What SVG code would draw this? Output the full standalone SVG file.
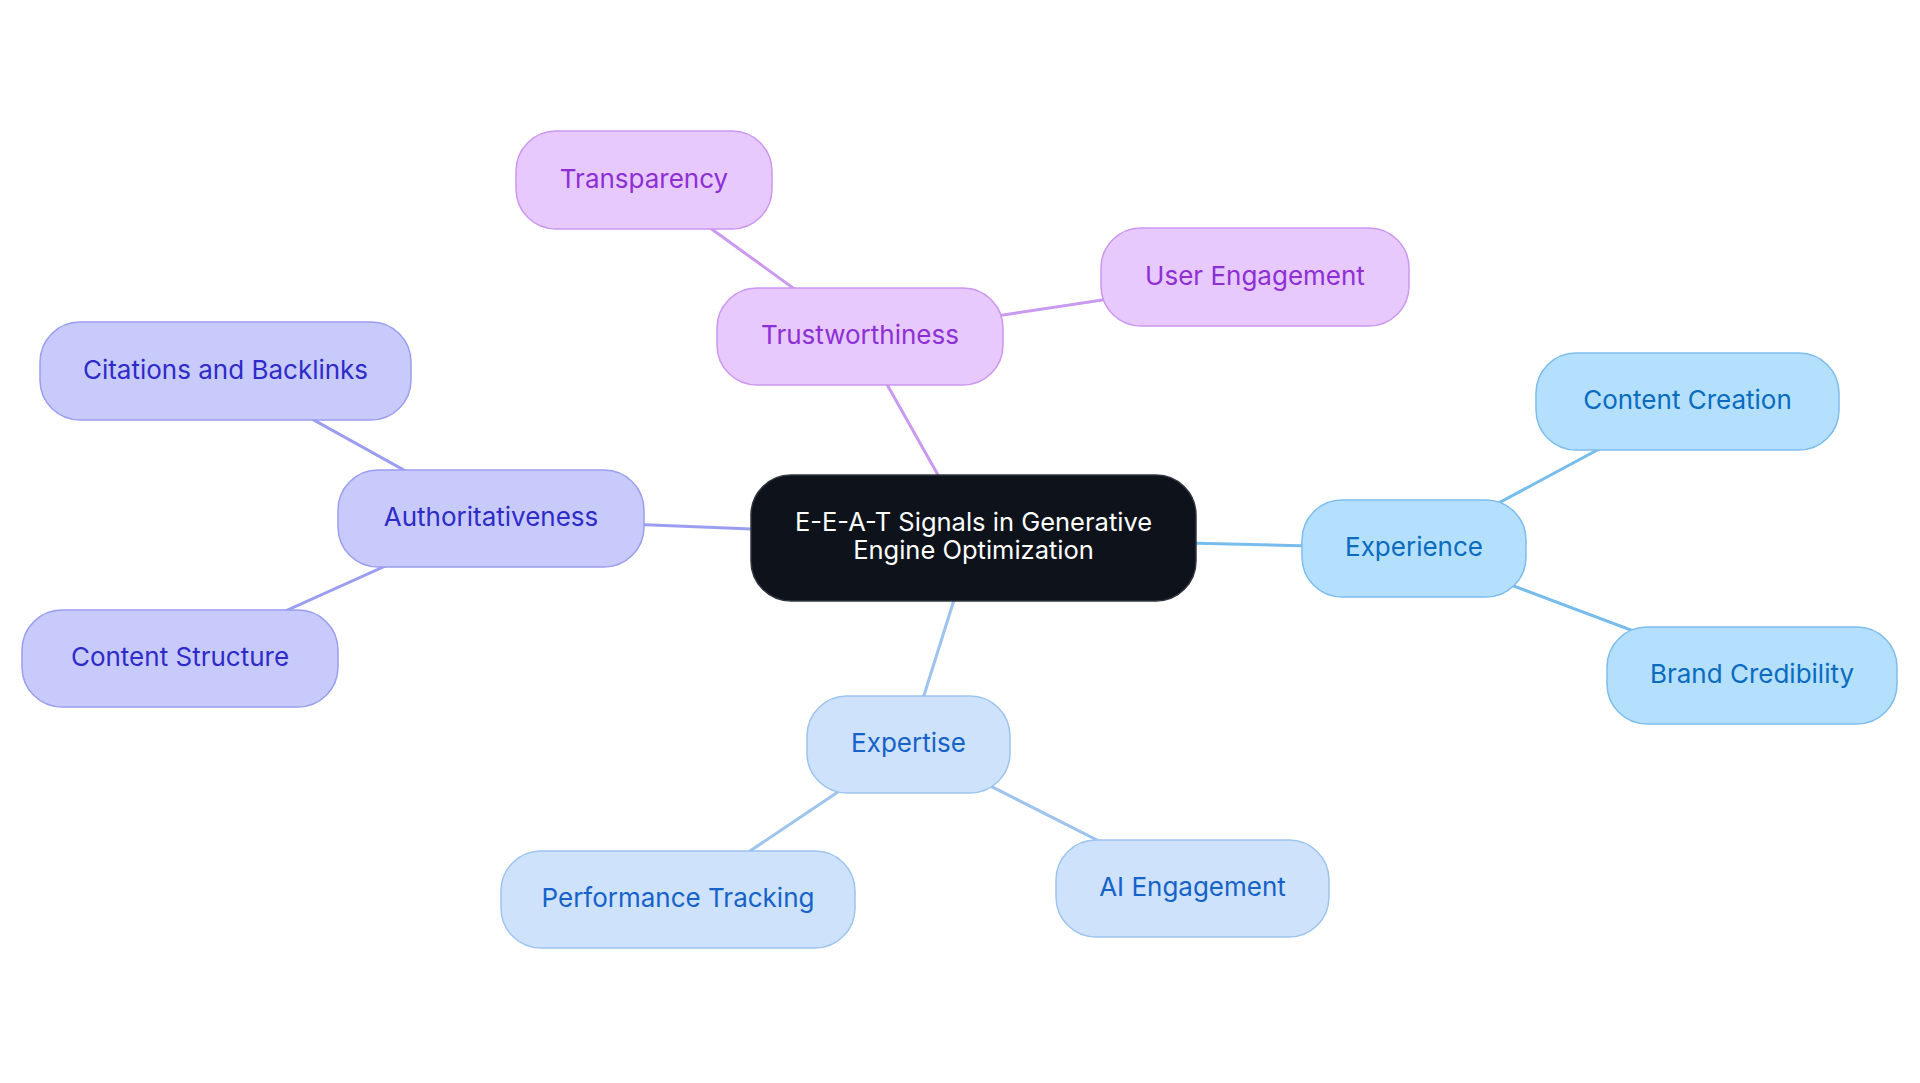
<svg xmlns="http://www.w3.org/2000/svg" width="1920" height="1083" viewBox="0 0 1920 1083">
<style>
text{font-family:Inter,"Noto Sans","Liberation Sans",sans-serif;font-size:26px;text-anchor:middle}
.c line{stroke-width:3;fill:none}
.pu rect{fill:#E7C9FD;stroke:#CC97F0;stroke-width:1.5}
.pu text{fill:#8E2FD6}
.in rect{fill:#C8CAFC;stroke:#9B9DF0;stroke-width:1.5}
.in text{fill:#2F2BC8}
.lb rect{fill:#B4DFFD;stroke:#7DBDEE;stroke-width:1.5}
.lb text{fill:#0A6BBF}
.ex rect{fill:#CEE3FB;stroke:#9DC4EF;stroke-width:1.5}
.ex text{fill:#1662C8}
.root rect{fill:#0D121B;stroke:#30353D;stroke-width:1.5}
.root text{fill:#FFFFFF;font-size:25.5px}
</style>
<rect width="1920" height="1083" fill="#FFFFFF"/>
<g id="connectors" class="c">
<line x1="973.5" y1="538" x2="860" y2="336.5" stroke="#C99AF0"/>
<line x1="860" y1="336.5" x2="644" y2="180" stroke="#C99AF0"/>
<line x1="860" y1="336.5" x2="1255" y2="277" stroke="#C99AF0"/>
<line x1="973.5" y1="538" x2="491" y2="518.5" stroke="#9B9DF0"/>
<line x1="491" y1="518.5" x2="225.5" y2="371" stroke="#9B9DF0"/>
<line x1="491" y1="518.5" x2="180" y2="658.5" stroke="#9B9DF0"/>
<line x1="973.5" y1="538" x2="1414" y2="548.5" stroke="#76BCEC"/>
<line x1="1414" y1="548.5" x2="1687.5" y2="401.5" stroke="#76BCEC"/>
<line x1="1414" y1="548.5" x2="1752" y2="675.5" stroke="#76BCEC"/>
<line x1="973.5" y1="538" x2="908.5" y2="744.5" stroke="#9DC4EF"/>
<line x1="908.5" y1="744.5" x2="678" y2="899.5" stroke="#9DC4EF"/>
<line x1="908.5" y1="744.5" x2="1192.5" y2="888.5" stroke="#9DC4EF"/>
</g>
<g id="root" class="root">
<rect x="751" y="475" width="445" height="126" rx="40"/>
<text x="973.5" y="530.5">E-E-A-T Signals in Generative</text>
<text x="973.5" y="559">Engine Optimization</text>
</g>
<g id="trustworthiness" class="pu"><rect x="717" y="288" width="286" height="97" rx="40"/><text x="860" y="344">Trustworthiness</text></g>
<g id="transparency" class="pu"><rect x="516" y="131" width="256" height="98" rx="40"/><text x="644" y="187.5">Transparency</text></g>
<g id="user-engagement" class="pu"><rect x="1101" y="228" width="308" height="98" rx="40"/><text x="1255" y="284.5">User Engagement</text></g>
<g id="authoritativeness" class="in"><rect x="338" y="470" width="306" height="97" rx="40"/><text x="491" y="526">Authoritativeness</text></g>
<g id="citations" class="in"><rect x="40" y="322" width="371" height="98" rx="40"/><text x="225.5" y="378.5">Citations and Backlinks</text></g>
<g id="content-structure" class="in"><rect x="22" y="610" width="316" height="97" rx="40"/><text x="180" y="666">Content Structure</text></g>
<g id="experience" class="lb"><rect x="1302" y="500" width="224" height="97" rx="40"/><text x="1414" y="556">Experience</text></g>
<g id="content-creation" class="lb"><rect x="1536" y="353" width="303" height="97" rx="40"/><text x="1687.5" y="409">Content Creation</text></g>
<g id="brand-credibility" class="lb"><rect x="1607" y="627" width="290" height="97" rx="40"/><text x="1752" y="683">Brand Credibility</text></g>
<g id="expertise" class="ex"><rect x="807" y="696" width="203" height="97" rx="40"/><text x="908.5" y="752">Expertise</text></g>
<g id="performance-tracking" class="ex"><rect x="501" y="851" width="354" height="97" rx="40"/><text x="678" y="907">Performance Tracking</text></g>
<g id="ai-engagement" class="ex"><rect x="1056" y="840" width="273" height="97" rx="40"/><text x="1192.5" y="896">AI Engagement</text></g>
</svg>
